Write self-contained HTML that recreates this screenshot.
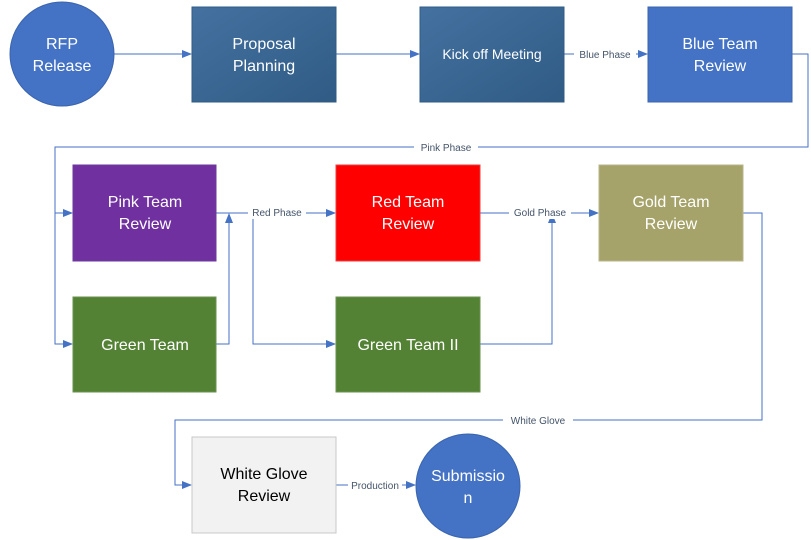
<!DOCTYPE html>
<html><head><meta charset="utf-8"><style>
html,body{margin:0;padding:0;background:#fff;}
svg{display:block;font-family:"Liberation Sans",sans-serif;}
.t{fill:#fff;font-size:16px;text-anchor:middle;}
.l{fill:#44546a;font-size:10px;text-anchor:middle;}
.c{stroke:#4472c4;stroke-width:1;fill:none;}
</style></head><body>
<svg width="811" height="540" viewBox="0 0 811 540">
<defs>
<marker id="a" markerWidth="10" markerHeight="8" refX="9" refY="4" orient="auto" markerUnits="userSpaceOnUse">
<path d="M0,0 L10,4 L0,8 Z" fill="#4472c4"/></marker>
<linearGradient id="g" x1="0" y1="0" x2="1" y2="1"><stop offset="0" stop-color="#4471a0"/><stop offset="1" stop-color="#2f5b85"/></linearGradient>
</defs>
<!-- connectors -->
<line class="c" x1="114" y1="54" x2="191" y2="54" marker-end="url(#a)"/>
<line class="c" x1="336" y1="54" x2="419" y2="54" marker-end="url(#a)"/>
<line class="c" x1="564" y1="54" x2="647" y2="54" marker-end="url(#a)"/>
<polyline class="c" points="792,54 808,54 808,147 55,147 55,213 72,213" marker-end="url(#a)"/>
<polyline class="c" points="55,213 55,344 72,344" marker-end="url(#a)"/>
<line class="c" x1="216" y1="213" x2="335" y2="213" marker-end="url(#a)"/>
<polyline class="c" points="216,344 229,344 229,214" marker-end="url(#a)"/>
<polyline class="c" points="253,213 253,344 335,344" marker-end="url(#a)"/>
<line class="c" x1="480" y1="213" x2="598" y2="213" marker-end="url(#a)"/>
<polyline class="c" points="480,344 552,344 552,214" marker-end="url(#a)"/>
<polyline class="c" points="743,213 762,213 762,420 175,420 175,485 191,485" marker-end="url(#a)"/>
<line class="c" x1="336" y1="485" x2="415" y2="485" marker-end="url(#a)"/>
<!-- labels -->
<rect x="574" y="47" width="62" height="13" fill="#fff"/><text class="l" x="605" y="58">Blue Phase</text>
<rect x="414" y="141" width="64" height="13" fill="#fff"/><text class="l" x="446" y="151">Pink Phase</text>
<rect x="248" y="206" width="58" height="13" fill="#fff"/><text class="l" x="277" y="216">Red Phase</text>
<rect x="509" y="206" width="62" height="13" fill="#fff"/><text class="l" x="540" y="216">Gold Phase</text>
<rect x="503" y="414" width="70" height="13" fill="#fff"/><text class="l" x="538" y="424">White Glove</text>
<rect x="348" y="479" width="54" height="13" fill="#fff"/><text class="l" x="375" y="489">Production</text>
<!-- nodes -->
<circle cx="62" cy="54" r="52" fill="#4472c4" stroke="#3a64ad"/>
<text class="t" x="62" y="49">RFP</text><text class="t" x="62" y="71">Release</text>
<rect x="192" y="7" width="144" height="95" fill="url(#g)" stroke="#2f5b85"/>
<text class="t" x="264" y="49">Proposal</text><text class="t" x="264" y="71">Planning</text>
<rect x="420" y="7" width="144" height="95" fill="url(#g)" stroke="#2f5b85"/>
<text class="t" x="492" y="59" style="font-size:14px">Kick off Meeting</text>
<rect x="648" y="7" width="144" height="95" fill="#4472c4" stroke="#3a64ad"/>
<text class="t" x="720" y="49">Blue Team</text><text class="t" x="720" y="71">Review</text>
<rect x="73" y="165" width="143" height="96" fill="#7030a0" stroke="#6a3a9a"/>
<text class="t" x="145" y="207">Pink Team</text><text class="t" x="145" y="229">Review</text>
<rect x="336" y="165" width="144" height="96" fill="#ff0000" stroke="#e84040"/>
<text class="t" x="408" y="207">Red Team</text><text class="t" x="408" y="229">Review</text>
<rect x="599" y="165" width="144" height="96" fill="#a5a36a" stroke="#b8b68a"/>
<text class="t" x="671" y="207">Gold Team</text><text class="t" x="671" y="229">Review</text>
<rect x="73" y="297" width="143" height="95" fill="#548235" stroke="#6a9250"/>
<text class="t" x="145" y="350">Green Team</text>
<rect x="336" y="297" width="144" height="95" fill="#548235" stroke="#6a9250"/>
<text class="t" x="408" y="350">Green Team II</text>
<rect x="192" y="437" width="144" height="96" fill="#f2f2f2" stroke="#c8c8c8"/>
<text class="t" x="264" y="479" style="fill:#000">White Glove</text><text class="t" x="264" y="501" style="fill:#000">Review</text>
<circle cx="468" cy="486" r="52" fill="#4472c4" stroke="#3a64ad"/>
<text class="t" x="468" y="481">Submissio</text><text class="t" x="468" y="503">n</text>
</svg>
</body></html>
